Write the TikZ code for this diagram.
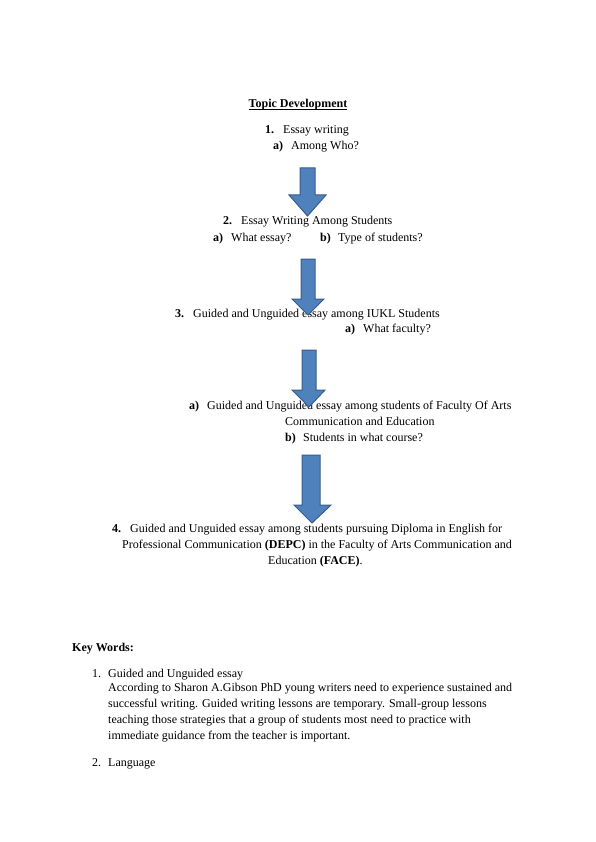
\documentclass[tikz,border=0pt]{standalone}
\usepackage{fontspec}
\setmainfont{Liberation Serif}
\definecolor{arrowfill}{HTML}{4F81BD}
\definecolor{arrowline}{HTML}{385D8A}
\tikzset{
	txt/.style={anchor=base west,inner sep=0pt,font=\fontsize{12}{15.9}\selectfont},
	blockarrow/.style={fill=arrowfill,draw=arrowline,line width=1pt,line join=miter},
}
\newcommand{\lbl}[1]{\makebox[18pt][l]{\textbf{#1}}}
\newcommand{\num}[1]{\makebox[16pt][l]{#1}}
\begin{document}
\begin{tikzpicture}[x=1pt,y=-1pt]
		\useasboundingbox (0,0) rectangle (595,842);
		% flow of topics
		\node[txt,anchor=base] (title) at (298,108) {\textbf{Topic Development}};
		\draw [line width=0.7pt] ([yshift=-1.6pt]title.base west) -- ([yshift=-1.6pt]title.base east);
		\node[txt] (s1) at (265,134) {\lbl{1.}Essay writing};
		\node[txt] (s1a) at (273,150) {\lbl{a)}Among Who?};
		\node[txt] (s2) at (223,225) {\lbl{2.}Essay Writing Among Students};
		\node[txt] (s2a) at (213,241) {\lbl{a)}What essay?};
		\node[txt] (s2b) at (320,241) {\lbl{b)}Type of students?};
		\node[txt] (s3) at (175,317) {\lbl{3.}Guided and Unguided essay among IUKL Students};
		\node[txt] (s3a) at (345,332) {\lbl{a)}What faculty?};
		\node[txt] (f1) at (189,409) {\lbl{a)}Guided and Unguided essay among students of Faculty Of Arts};
		\node[txt] (f2) at (285,425) {Communication and Education};
		\node[txt] (f3) at (285,441) {\lbl{b)}Students in what course?};
		\node[txt] (s4) at (112,532) {\lbl{4.}Guided and Unguided essay among students pursuing Diploma in English for};
		\node[txt] (s4b) at (122,548) {Professional Communication \textbf{(DEPC)} in the Faculty of Arts Communication and};
		\node[txt] (s4c) at (268,564) {Education \textbf{(FACE)}.};
		% arrows
		\draw [blockarrow] (300,168) -- (315,168) -- (315,195) -- (326,195) -- (307.5,216) -- (289,195) -- (300,195) -- cycle;
		\draw [blockarrow] (301,259) -- (315,259) -- (315,299) -- (324,299) -- (308,315) -- (292,299) -- (301,299) -- cycle;
		\draw [blockarrow] (302,350) -- (316,350) -- (316,390) -- (325,390) -- (309,407) -- (292,390) -- (302,390) -- cycle;
		\draw [blockarrow] (302,455) -- (320,455) -- (320,505) -- (331,505) -- (312,523) -- (294,505) -- (302,505) -- cycle;
		% key words
		\node[txt] (kw) at (72,651) {\textbf{Key Words:}};
		\node[txt] (kw1) at (92,677) {\num{1.}Guided and Unguided essay};
		\node[txt] (p1) at (108,691) {According to Sharon A.Gibson PhD young writers need to experience sustained and};
		\node[txt] (p2) at (108,707) {successful writing. Guided writing lessons are temporary. Small-group lessons};
		\node[txt] (p3) at (108,723) {teaching those strategies that a group of students most need to practice with};
		\node[txt] (p4) at (108,739) {immediate guidance from the teacher is important.};
		\node[txt] (kw2) at (92,766) {\num{2.}Language};
	\end{tikzpicture}
\end{document}
